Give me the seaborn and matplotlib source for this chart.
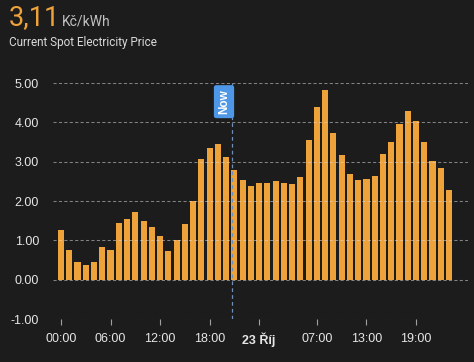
import pandas as pd
import numpy as np
import seaborn as sns
import matplotlib.pyplot as plt


# hourly spot prices (Kč/kWh), 22.10 00:00 .. 23.10 23:00
day1_prices = [1.26, 0.75, 0.46, 0.38, 0.46, 0.84, 0.75, 1.44, 1.55, 1.72, 1.49, 1.34,
               1.11, 0.72, 1.01, 1.42, 2.00, 3.07, 3.36, 3.44, 3.11, 2.78, 2.53, 2.38]
day2_prices = [2.47, 2.47, 2.50, 2.47, 2.43, 2.60, 3.55, 4.38, 4.82, 3.74, 3.17, 2.69,
               2.53, 2.55, 2.64, 3.19, 3.50, 3.97, 4.28, 4.04, 3.50, 3.02, 2.83, 2.29]

tick_slots = [0, 6, 12, 18, 24, 31, 37, 43]
tick_labels = ['00:00', '06:00', '12:00', '18:00', '23 Říj', '07:00', '13:00', '19:00']
y_ticks = [-1, 0, 1, 2, 3, 4, 5]

current_price = '3,11'
now_slot = 20.67

bg = '#1c1c1c'
orange = '#eea23a'

prices = day1_prices + day2_prices
df = pd.DataFrame({'slot': range(len(prices)), 'price': prices})

sns.set_theme(style='dark')
plt.rcParams['font.family'] = ['Liberation Sans', 'DejaVu Sans']

fig = plt.figure(figsize=(4.74, 3.62), dpi=100, facecolor=bg)
ax = fig.add_axes([53 / 474, 43 / 362, 415 / 474, 236 / 362])
ax.set_facecolor(bg)

sns.barplot(data=df, x='slot', y='price', color=orange, saturation=1,
            width=0.74, linewidth=0, ax=ax, zorder=2)

# dashed grid drawn over the bars
for yv in y_ticks:
    ax.axhline(yv, color='#d8d8d8', lw=0.75, ls=(0, (3, 2.2)), alpha=0.55, zorder=3)

ax.set_xlim(-0.97, 49.3)
ax.set_ylim(-1, 5)
ax.set_yticks(y_ticks)
ax.set_yticklabels([f'{v:.2f}' for v in y_ticks], color='#e6e6e6', fontsize=9)
ax.set_xticks(tick_slots)
ax.set_xticklabels(tick_labels, color='#e6e6e6', fontsize=9)
for lbl in ax.get_xticklabels():
    if 'Říj' in lbl.get_text():
        lbl.set_fontweight('bold')
ax.tick_params(axis='y', length=0, pad=10)
ax.tick_params(axis='x', bottom=True, length=4, width=0.8, color='#a0a0a0',
               direction='out', pad=6)
ax.set_xlabel('')
ax.set_ylabel('')
for s in ax.spines.values():
    s.set_visible(False)

# "Now" marker
ax.axvline(now_slot, color='#6f8fb8', lw=0.9, ls=(0, (3, 2.5)), zorder=4)
ax.text(now_slot - 0.2, 4.84, 'Now', rotation=90, ha='right', va='top',
        color='white', fontsize=8.5, fontweight='bold', zorder=5,
        bbox=dict(boxstyle='round,pad=0.35,rounding_size=0.2', fc='#4d97e6',
                  ec='none'))

# header
fig.text(9 / 474, 1 - 25 / 362, current_price, color=orange, fontsize=19.5,
         family='Roboto', va='baseline', ha='left')
fig.text(62 / 474, 1 - 25 / 362, 'Kč/kWh', color='#c0c0c0', fontsize=10,
         family='Roboto', va='baseline', ha='left')
fig.text(9 / 474, 1 - 46 / 362, 'Current Spot Electricity Price', color='#dadada',
         fontsize=8.5, family='Roboto', va='baseline', ha='left')

plt.savefig('out.png', dpi=100, facecolor=bg)
